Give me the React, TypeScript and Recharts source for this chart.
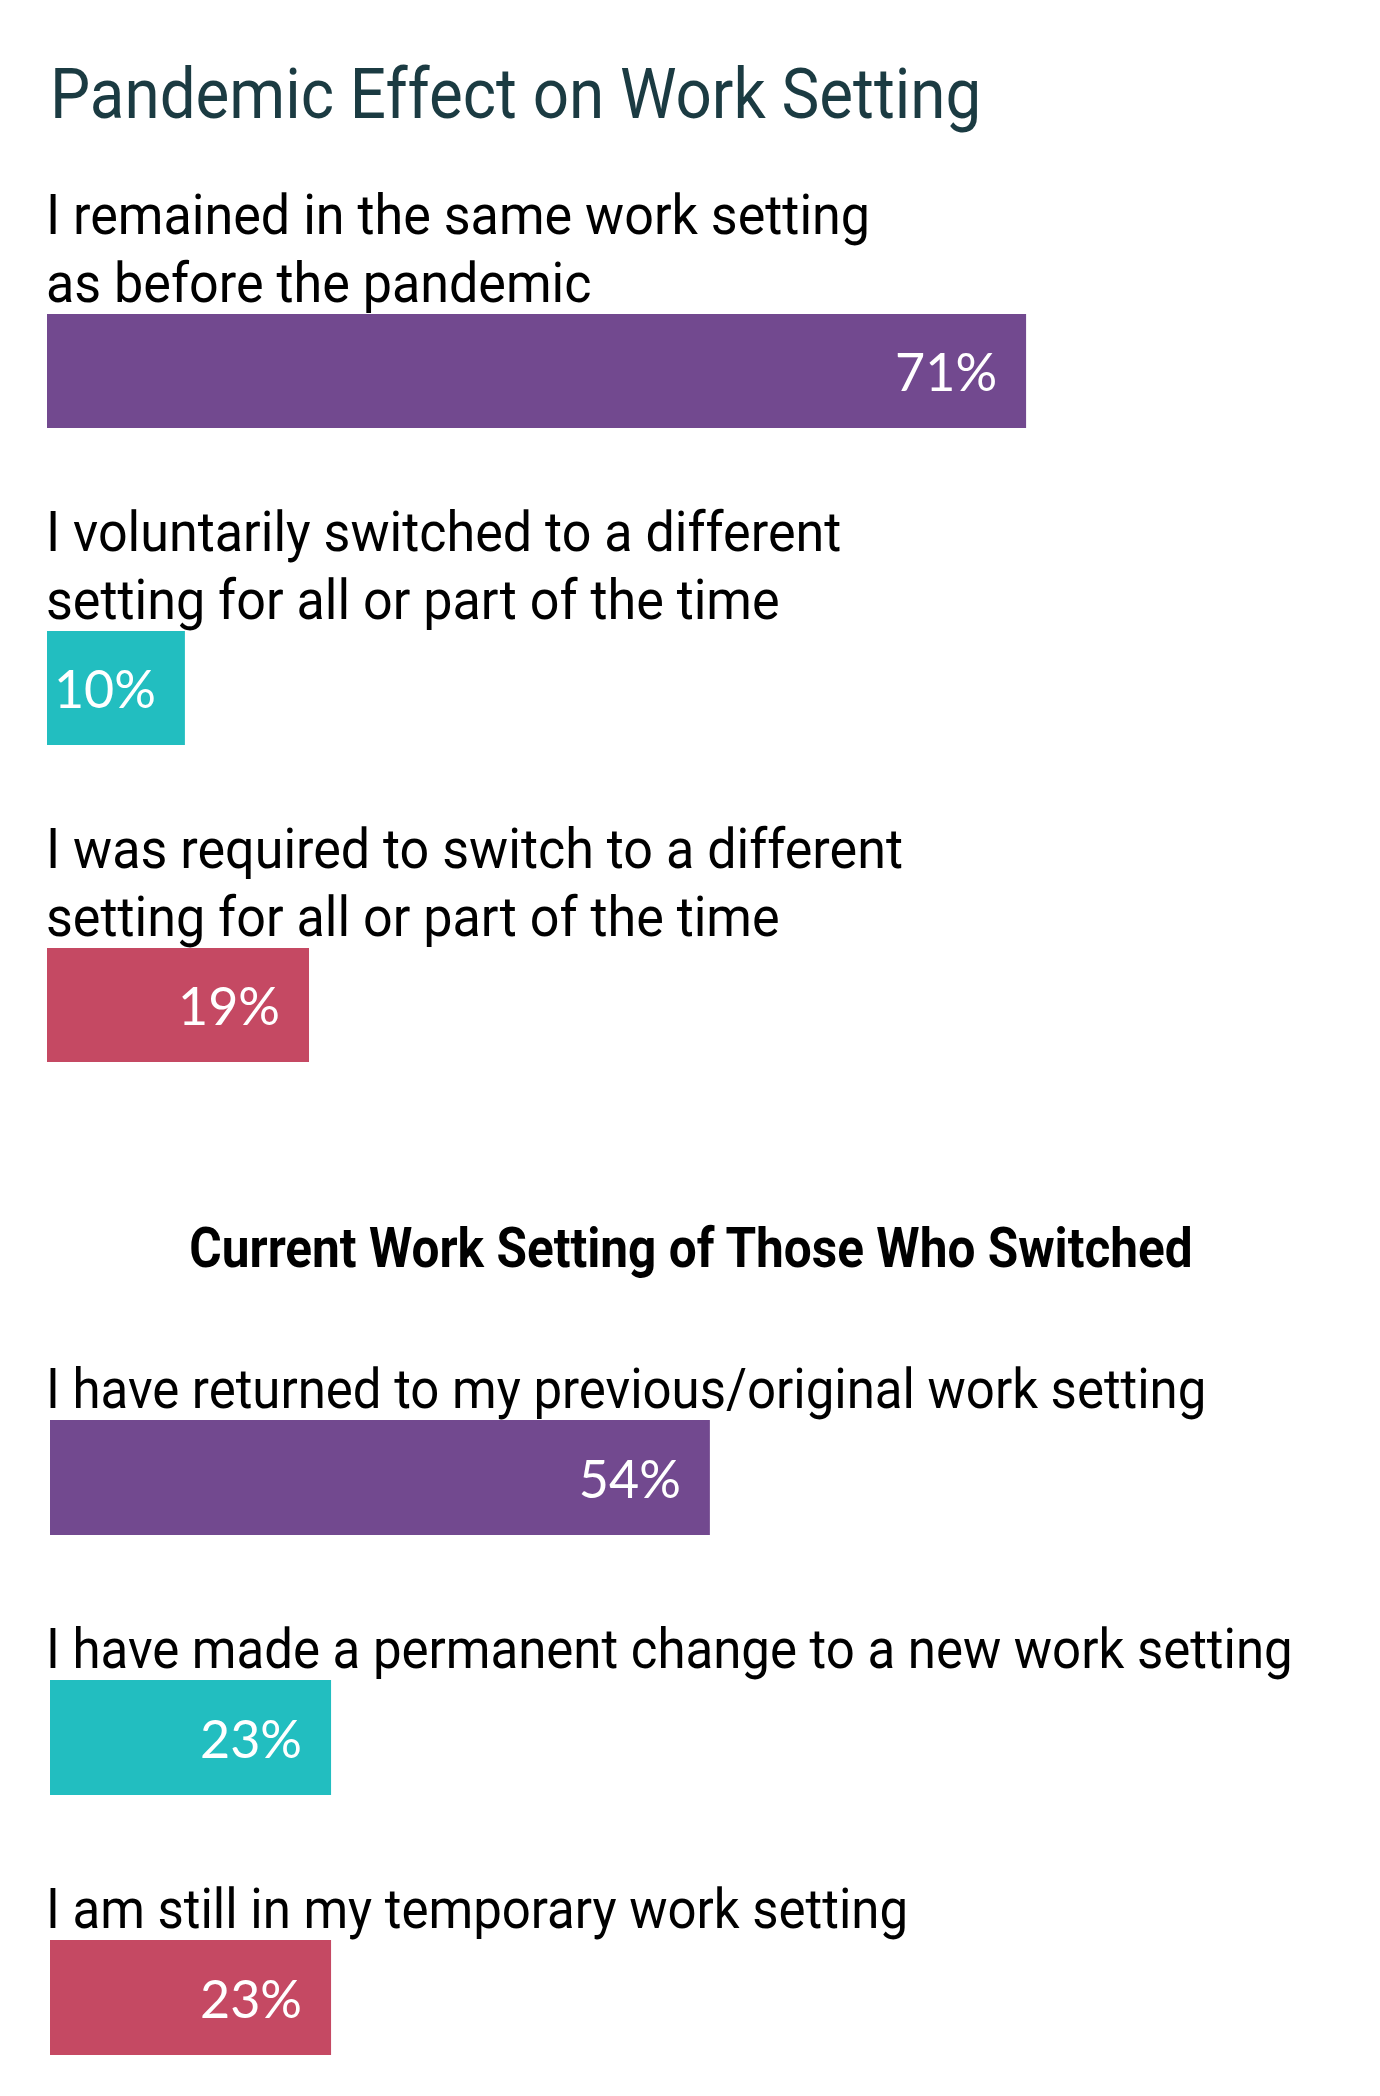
import { BarChart, Bar, XAxis, YAxis, Cell, LabelList } from 'recharts'

const effectLabels = [
  'I remained in the same work setting\nas before the pandemic',
  'I voluntarily switched to a different\nsetting for all or part of the time',
  'I was required to switch to a different\nsetting for all or part of the time',
]
const effectValues = [71, 10, 19]

const currentLabels = [
  'I have returned to my previous/original work setting',
  'I have made a permanent change to a new work setting',
  'I am still in my temporary work setting',
]
const currentValues = [54, 23, 23]

const COLORS = ['#72498F', '#22BEC0', '#C54963']

const effectData = effectLabels.map((name, i) => ({ name, value: effectValues[i] }))
const currentData = currentLabels.map((name, i) => ({ name, value: currentValues[i] }))

const makeCategoryLabel = (sx: number) => (props: any) => {
  const { y, value } = props
  const lines = String(value).split('\n')
  return (
    <g transform={`translate(46, ${y - 12}) scale(${sx}, 1)`}>
      {lines.map((l, i) => (
        <text key={i} x={0} y={(i - lines.length + 1) * 68} fontSize={56} fontFamily="Roboto" fill="#000">
          {l}
        </text>
      ))}
    </g>
  )
}

const ValueLabel = (props: any) => {
  const { x, y, width, height, value } = props
  return (
    <text
      x={x + width - 29}
      y={y + height / 2}
      textAnchor="end"
      dominantBaseline="central"
      fontSize={52}
      fontFamily="Lato"
      fill="#fff"
    >
      {value}%
    </text>
  )
}

function Panel({ data, width, height, margin, barSize, labelScale }: any) {
  return (
    <BarChart width={width} height={height} data={data} layout="vertical" margin={margin}>
      <XAxis type="number" domain={[0, 100]} hide />
      <YAxis type="category" dataKey="name" hide />
      <Bar dataKey="value" barSize={barSize} isAnimationActive={false}>
        {data.map((_: any, i: number) => (
          <Cell key={i} fill={COLORS[i]} />
        ))}
        <LabelList dataKey="value" content={ValueLabel} />
        <LabelList dataKey="name" content={makeCategoryLabel(labelScale)} />
      </Bar>
    </BarChart>
  )
}

export default function App() {
  return (
    <div style={{ position: 'absolute', top: 0, left: 0, width: 1380, height: 2096, overflow: 'hidden', background: '#fff' }}>
      <svg width={1380} height={2096} style={{ position: 'absolute', top: 0, left: 0 }}>
        <g transform="translate(50, 118) scale(0.91, 1)">
          <text fontSize={70} fontFamily="Roboto" fill="#1B3B42">Pandemic Effect on Work Setting</text>
        </g>
        <g transform="translate(691, 1267) scale(0.885, 1)">
          <text fontSize={56} fontFamily="Roboto" fontWeight="bold" textAnchor="middle" fill="#000">
            Current Work Setting of Those Who Switched
          </text>
        </g>
      </svg>
      <div style={{ position: 'absolute', top: 0, left: 0 }}>
        <Panel data={effectData} width={1426} height={1170} barSize={114} labelScale={0.93} margin={{ top: 212, right: 0, left: 47, bottom: 7 }} />
      </div>
      <div style={{ position: 'absolute', top: 1150, left: 0 }}>
        <Panel data={currentData} width={1380} height={977} barSize={115} labelScale={0.91} margin={{ top: 197, right: 108, left: 50, bottom: 0 }} />
      </div>
    </div>
  )
}
